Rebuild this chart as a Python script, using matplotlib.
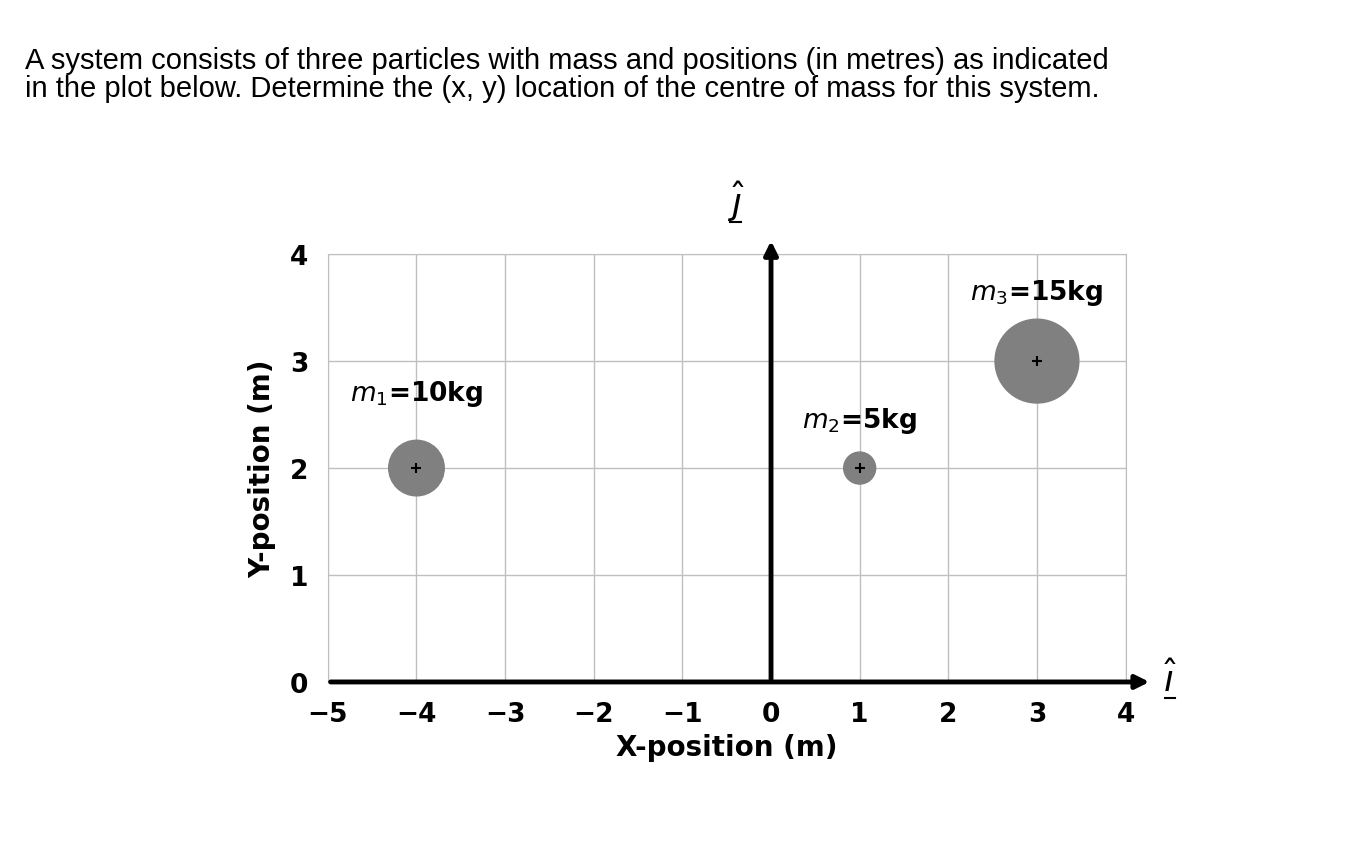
import matplotlib.pyplot as plt

xs = [-4, 1, 3]
ys = [2, 2, 3]
sizes = [1600, 530, 3640]
labels = ["$m_1$=10kg", "$m_2$=5kg", "$m_3$=15kg"]
label_pos = [(-4, 2.7), (1, 2.45), (3, 3.65)]
xticks = list(range(-5, 5))
yticks = list(range(0, 5))

fig = plt.figure(figsize=(13.66, 8.62), dpi=100)
fig.text(0.018, 0.88, "A system consists of three particles with mass and positions (in metres) as indicated\nin the plot below. Determine the (x, y) location of the centre of mass for this system.",
         fontsize=21, family="Liberation Sans", va="bottom", linespacing=1.0)
ax = fig.add_axes([0.240, 0.2077, 0.584, 0.4963])
ax.set_xlim(-5, 4)
ax.set_ylim(0, 4)
ax.set_xticks(xticks)
ax.set_yticks(yticks)
ax.grid(True, color="#bfbfbf", lw=1)
for s in ax.spines.values():
    s.set_color("#bfbfbf")
ax.tick_params(length=0, labelsize=19, pad=14)
for t in ax.get_xticklabels() + ax.get_yticklabels():
    t.set_fontweight("bold")
ax.set_xlabel("X-position (m)", fontsize=20, fontweight="bold", labelpad=4)
ax.set_ylabel("Y-position (m)", fontsize=20, fontweight="bold", labelpad=10)
ax.scatter(xs, ys, s=sizes, color="#808080", zorder=3, clip_on=False)
ax.scatter(xs, ys, marker="+", s=60, color="black", lw=1.5, zorder=4)
for (lx, ly), lab in zip(label_pos, labels):
    ax.text(lx, ly, lab, ha="center", va="center", fontsize=19, fontweight="bold")
ax.annotate("", xy=(4.3, 0), xytext=(-5, 0), arrowprops=dict(arrowstyle="-|>,head_width=0.4,head_length=0.8", lw=3.5, color="black"), annotation_clip=False)
ax.annotate("", xy=(0, 4.15), xytext=(0, 0), arrowprops=dict(arrowstyle="-|>,head_width=0.4,head_length=0.8", lw=3.5, color="black"), annotation_clip=False)
ax.text(4.5, 0.02, r"$\hat{\imath}$", fontsize=26, ha="center", va="center")
ax.plot([4.44, 4.56], [-0.15, -0.15], color="black", lw=1.5, clip_on=False)
ax.text(-0.4, 4.5, r"$\hat{\jmath}$", fontsize=26, ha="center", va="center")
ax.plot([-0.46, -0.34], [4.3, 4.3], color="black", lw=1.5, clip_on=False)
fig.savefig("out.png")
